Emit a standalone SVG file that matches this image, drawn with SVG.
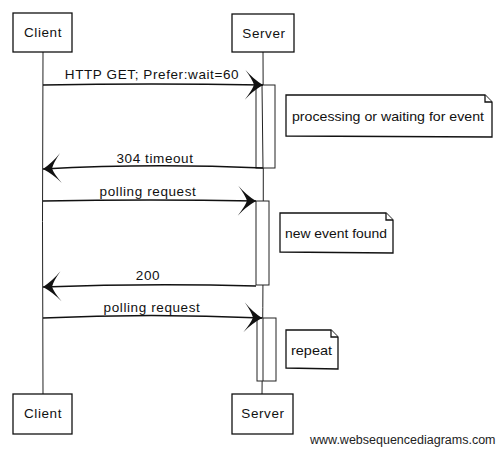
<svg xmlns="http://www.w3.org/2000/svg" width="500" height="454" viewBox="0 0 500 454">
<style>
.box{fill:#fff;stroke:#111;stroke-width:1.3}
.life{fill:none;stroke:#222;stroke-width:1}
.msg{fill:none;stroke:#111;stroke-width:1.4}
.act{fill:#fff;stroke:#222;stroke-width:1}
.t{font-family:"Liberation Sans","DejaVu Sans",sans-serif;font-size:13.5px;letter-spacing:0.6px;fill:#111}
.n{letter-spacing:0}
.c{text-anchor:middle}
.foot{font-family:"Liberation Sans",Arial,sans-serif;font-size:12.5px;fill:#222}
</style>
<defs>
<marker id="ah" markerUnits="userSpaceOnUse" viewBox="-20 -16 21 32" refX="0" refY="0" markerWidth="21" markerHeight="32" orient="auto">
<path d="M0,0 Q-10,-6 -18,-15 Q-11,-6 -9,0 Q-11,6 -18,15 Q-10,6 0,0 Z" fill="#111"/>
</marker>
</defs>
<g id="lifelines">
<path class="life" d="M43,52 Q42,220 43,394"/>
<path class="life" d="M263,52 Q264,220 262,394"/>
</g>
<g id="activations">
<rect class="act" x="256" y="85" width="19" height="83"/>
<line class="life" x1="262" y1="85" x2="263" y2="168"/>
<rect class="act" x="256" y="201" width="13" height="84"/>
<rect class="act" x="257" y="318" width="19" height="63"/>
<line class="life" x1="263" y1="318" x2="263" y2="381"/>
</g>
<g id="connectors">
<path class="msg" d="M43,85 Q150,83 263,85" marker-end="url(#ah)"/>
<path class="msg" d="M263,168 Q150,163 43,169" marker-end="url(#ah)"/>
<path class="msg" d="M43,201 Q150,199 256,201" marker-end="url(#ah)"/>
<path class="msg" d="M256,286 Q150,283 43,287" marker-end="url(#ah)"/>
<path class="msg" d="M43,318 Q150,313 262,318" marker-end="url(#ah)"/>
</g>
<g id="labels">
<text class="t c" x="152" y="79">HTTP GET; Prefer:wait=60</text>
<text class="t c" x="155" y="163">304 timeout</text>
<text class="t c" x="148" y="196">polling request</text>
<text class="t c" x="148" y="280">200</text>
<text class="t c" x="152" y="312">polling request</text>
</g>
<g id="client-top"><rect class="box" x="13" y="13" width="59" height="39"/><text class="t c" x="43" y="37">Client</text></g>
<g id="server-top"><rect class="box" x="232" y="14" width="62" height="38"/><text class="t c" x="264" y="38">Server</text></g>
<g id="client-bottom"><rect class="box" x="13" y="394" width="59" height="40"/><text class="t c" x="43" y="418">Client</text></g>
<g id="server-bottom"><rect class="box" x="232" y="394" width="61" height="40"/><text class="t c" x="263" y="418">Server</text></g>
<g id="note1"><path class="box" d="M286,95 L485,95 L492,102 L492,137 L286,136 Z"/><path class="box" d="M485,95 L485,102 L492,102" fill="none"/><text class="t n" x="292" y="121" textLength="192" lengthAdjust="spacingAndGlyphs">processing or waiting for event</text></g>
<g id="note2"><path class="box" d="M280,213 L386,213 L393,220 L393,253 L280,252 Z"/><path class="box" d="M386,213 L386,220 L393,220" fill="none"/><text class="t n" x="285" y="238" textLength="102" lengthAdjust="spacingAndGlyphs">new event found</text></g>
<g id="note3"><path class="box" d="M286,330 L331,330 L338,337 L338,369 L286,368 Z"/><path class="box" d="M331,330 L331,337 L338,337" fill="none"/><text class="t n" x="291" y="355" textLength="41" lengthAdjust="spacingAndGlyphs">repeat</text></g>
<text class="foot" x="310" y="444">www.websequencediagrams.com</text>
</svg>
